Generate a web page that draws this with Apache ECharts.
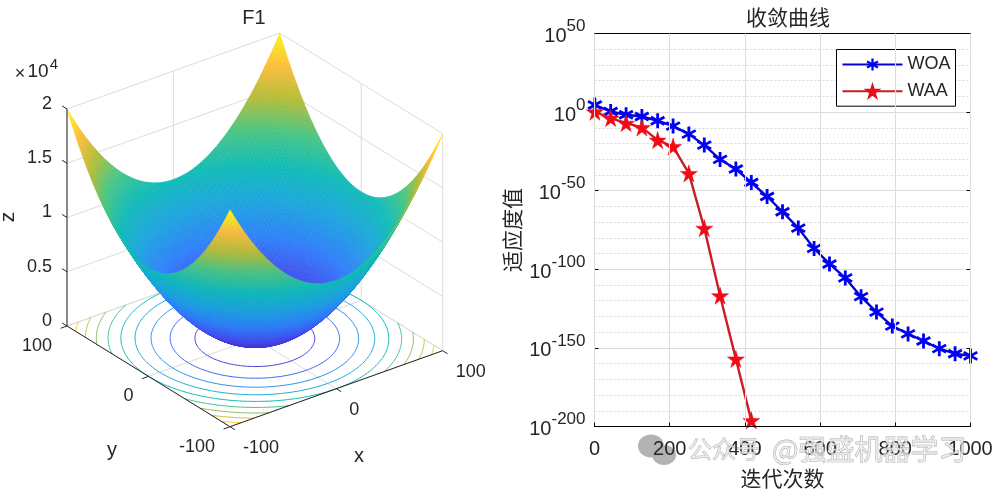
<!DOCTYPE html>
<html>
<head>
<meta charset="utf-8">
<style>html,body{margin:0;padding:0;background:#fff}#main{width:997px;height:490px}</style>
<script src="https://cdn.jsdelivr.net/npm/echarts@6/dist/echarts.min.js"></script>
</head>
<body>
<div id="main"></div>
<script>
// right panel: convergence curves, fitness is kept as log10 values
var iterations = [1, 43, 84, 126, 168, 209, 251, 292, 334, 376, 417, 459, 500, 542, 584, 625, 667, 709, 750, 792, 834, 875, 917, 959, 1000];
var woaLog10 = [4.5, 0.4, -1.7, -2.8, -5.5, -8.9, -14, -21, -30.1, -36.2, -44.8, -53.7, -63.4, -73.8, -86.7, -96.6, -105.5, -117.4, -127.2, -136.1, -141.1, -145.6, -150.5, -153.7, -155.1];
var waaLog10 = [0.2, -3.8, -7, -9.8, -17.8, -21.9, -39, -73.8, -116.8, -157, -196.1];

// left panel: bowl surface, z at a point is the sum of the two profiles
var gridValues = [-100, -98, -96, -94, -92, -90, -88, -86, -84, -82, -80, -78, -76, -74, -72, -70, -68, -66, -64, -62, -60, -58, -56, -54, -52, -50, -48, -46, -44, -42, -40, -38, -36, -34, -32, -30, -28, -26, -24, -22, -20, -18, -16, -14, -12, -10, -8, -6, -4, -2, 0, 2, 4, 6, 8, 10, 12, 14, 16, 18, 20, 22, 24, 26, 28, 30, 32, 34, 36, 38, 40, 42, 44, 46, 48, 50, 52, 54, 56, 58, 60, 62, 64, 66, 68, 70, 72, 74, 76, 78, 80, 82, 84, 86, 88, 90, 92, 94, 96, 98, 100];
var bowlProfile = [10000, 9604, 9216, 8836, 8464, 8100, 7744, 7396, 7056, 6724, 6400, 6084, 5776, 5476, 5184, 4900, 4624, 4356, 4096, 3844, 3600, 3364, 3136, 2916, 2704, 2500, 2304, 2116, 1936, 1764, 1600, 1444, 1296, 1156, 1024, 900, 784, 676, 576, 484, 400, 324, 256, 196, 144, 100, 64, 36, 16, 4, 0, 4, 16, 36, 64, 100, 144, 196, 256, 324, 400, 484, 576, 676, 784, 900, 1024, 1156, 1296, 1444, 1600, 1764, 1936, 2116, 2304, 2500, 2704, 2916, 3136, 3364, 3600, 3844, 4096, 4356, 4624, 4900, 5184, 5476, 5776, 6084, 6400, 6724, 7056, 7396, 7744, 8100, 8464, 8836, 9216, 9604, 10000];
var contourLevels = [2000, 4000, 6000, 8000, 10000, 12000, 14000, 16000, 18000];
var axisTicks3d = [-100, 0, 100];
var axisTickLabels = ['-100', '0', '100'];
var zTicks = [0, 5000, 10000, 15000, 20000];
var zTickLabels = ['0', '0.5', '1', '1.5', '2'];
var parula = ['#3E26A8', '#4746EC', '#2F7EFA', '#1CA4DE', '#10BBB8', '#48C584', '#B4BD38', '#FDBD3B', '#F9FB15'];

var sansFont = '"Liberation Sans", Arial, sans-serif';
var cjkFont = '"Noto Sans CJK SC", sans-serif';
var asteriskPath = 'path://M41 0L59 0L59 100L41 100ZM11.2 17.2L97.8 67.2L88.8 82.8L2.2 32.8ZM88.8 17.2L97.8 32.8L11.2 82.8L2.2 67.2Z';
var starPath = 'path://M50 0L61 35L98 35L68 57L79 91L50 70L21 91L32 57L2 35L39 35Z';

// orthographic view of the 3d box, fitted to the corners of the MATLAB axes
function project(x, y, z) {
    return [254.85 + x * 1.0635 - y * 0.815, 338.35 - x * 0.38 - y * 0.5035 - z * 0.01085];
}

function zAt(i, j) {
    return bowlProfile[i] + bowlProfile[j];
}

// far corner first so nearer cells paint over
var surfaceData = [];
for (var i = gridValues.length - 2; i >= 0; i--) {
    for (var j = gridValues.length - 2; j >= 0; j--) {
        surfaceData.push([i, j, (zAt(i, j) + zAt(i + 1, j) + zAt(i, j + 1) + zAt(i + 1, j + 1)) / 4]);
    }
}

function crossing(i1, j1, i2, j2, level) {
    var a = zAt(i1, j1), b = zAt(i2, j2);
    if ((a < level) === (b < level)) return null;
    var t = (level - a) / (b - a);
    return [gridValues[i1] + t * (gridValues[i2] - gridValues[i1]), gridValues[j1] + t * (gridValues[j2] - gridValues[j1])];
}

var contourData = [];
contourLevels.forEach(function (level) {
    for (var i = 0; i < gridValues.length - 1; i++) {
        for (var j = 0; j < gridValues.length - 1; j++) {
            var pts = [crossing(i, j, i + 1, j, level), crossing(i + 1, j, i + 1, j + 1, level), crossing(i, j + 1, i + 1, j + 1, level), crossing(i, j, i, j + 1, level)].filter(Boolean);
            for (var k = 0; k + 1 < pts.length; k += 2) {
                contourData.push([pts[k][0], pts[k][1], level, pts[k + 1][0], pts[k + 1][1]]);
            }
        }
    }
});

var wallLines = [];
zTicks.forEach(function (z) {
    wallLines.push([-100, 100, z, 100, 100, z], [100, 100, z, 100, -100, z]);
});
axisTicks3d.forEach(function (v) {
    wallLines.push([v, 100, 0, v, 100, 20000], [v, 100, 0, v, -100, 0]);
    wallLines.push([100, v, 0, 100, v, 20000], [100, v, 0, -100, v, 0]);
});

var axisLines = [[-100, 100, 0, -100, 100, 20000], [-100, 100, 0, -100, -100, 0], [-100, -100, 0, 100, -100, 0]];
zTicks.forEach(function (z) {
    axisLines.push([-100, 100, z, -100, 106, z]);
});
axisTicks3d.forEach(function (v) {
    axisLines.push([v, -100, 0, v, -106, 0], [-100, v, 0, -106, v, 0]);
});

function renderSegment(color, width) {
    return function (params, api) {
        var a = api.coord(project(api.value(0), api.value(1), api.value(2)));
        var b = api.coord(project(api.value(3), api.value(4), api.value(5)));
        return {
            type: 'line',
            shape: { x1: a[0], y1: a[1], x2: b[0], y2: b[1] },
            style: { stroke: color, lineWidth: width }
        };
    };
}

function renderContour(params, api) {
    var a = api.coord(project(api.value(0), api.value(1), 0));
    var b = api.coord(project(api.value(3), api.value(4), 0));
    return {
        type: 'line',
        shape: { x1: a[0], y1: a[1], x2: b[0], y2: b[1] },
        style: { stroke: api.visual('color'), lineWidth: 1 }
    };
}

function renderSurface(params, api) {
    var i = api.value(0), j = api.value(1), color = api.visual('color');
    var points = [[i, j], [i + 1, j], [i + 1, j + 1], [i, j + 1]].map(function (c) {
        return api.coord(project(gridValues[c[0]], gridValues[c[1]], zAt(c[0], c[1])));
    });
    return {
        type: 'polygon',
        shape: { points: points },
        style: { fill: color, stroke: color, lineWidth: 0.5 }
    };
}

function textEl(text, x, y, size, align) {
    return {
        type: 'text', silent: true, z: 20,
        style: { text: text, x: x, y: y, font: size + 'px ' + sansFont, fill: '#262626', align: align || 'center', verticalAlign: 'middle' }
    };
}

var labels = [
    textEl('F1', 254, 18, 20),
    { type: 'text', silent: true, z: 20, x: 8, y: 217, rotation: Math.PI / 2, style: { text: 'z', x: 0, y: 0, font: '21px ' + sansFont, fill: '#262626', align: 'center', verticalAlign: 'middle' } },
    textEl('y', 112, 450, 20),
    textEl('x', 359, 456, 20),
    textEl('×', 20, 74, 18),
    textEl('10', 38, 72, 19),
    textEl('4', 54, 65, 15)
];
zTicks.forEach(function (z, n) {
    var p = project(-100, 100, z);
    labels.push(textEl(zTickLabels[n], p[0] - 15, p[1] - 5, 18, 'right'));
});
axisTicks3d.forEach(function (v, n) {
    var py = project(-100, v, 0), px = project(v, -100, 0);
    labels.push(textEl(axisTickLabels[n], py[0] - 15, py[1] + 20, 18, 'right'));
    labels.push(textEl(axisTickLabels[n], px[0] + 13, px[1] + 21.5, 18, 'left'));
});

// watermark: the icon stays under the tick labels, the text goes over them
var watermarkStyle = { fill: 'rgba(235,235,235,0.72)', stroke: 'rgba(150,150,150,0.8)', lineWidth: 0.8, verticalAlign: 'middle' };
labels.push(
    { type: 'ellipse', silent: true, z: 1, shape: { cx: 651, cy: 446, rx: 13, ry: 11.5 }, style: { fill: 'rgba(175,175,175,0.95)' } },
    { type: 'ellipse', silent: true, z: 1, shape: { cx: 664, cy: 455, rx: 12, ry: 10 }, style: { fill: 'rgba(175,175,175,0.95)' } },
    { type: 'text', silent: true, z: 30, style: Object.assign({ text: '公众号', x: 688, y: 449, font: '24px ' + cjkFont }, watermarkStyle) },
    { type: 'text', silent: true, z: 30, style: Object.assign({ text: '@强盛机器学习', x: 772, y: 449, font: '28px ' + cjkFont }, watermarkStyle) }
);

var option = {
    animation: false,
    backgroundColor: '#fff',
    title: {
        text: '收敛曲线',
        left: 783,
        top: 2,
        textAlign: 'center',
        textStyle: { fontFamily: cjkFont, fontWeight: 'normal', fontSize: 21, color: '#262626' }
    },
    legend: {
        left: 836.5,
        top: 49.5,
        orient: 'vertical',
        padding: [6, 5, 6, 5],
        itemGap: 8.7,
        itemWidth: 60,
        itemHeight: 15,
        backgroundColor: '#fff',
        borderColor: '#000',
        borderWidth: 1,
        borderRadius: 0,
        textStyle: { fontFamily: sansFont, fontSize: 18, color: '#262626' },
        data: ['WOA', 'WAA']
    },
    grid: [
        { left: 594.5, top: 33.5, width: 376, height: 393, outerBoundsMode: 'none' },
        { left: 0, top: 0, right: 0, bottom: 0, outerBoundsMode: 'none' }
    ],
    visualMap: {
        show: false,
        type: 'continuous',
        min: 0,
        max: 20000,
        dimension: 2,
        seriesIndex: [3, 4],
        inRange: { color: parula }
    },
    xAxis: [
        {
            type: 'value', min: 0, max: 1000, interval: 200, gridIndex: 0, z: 10,
            name: '迭代次数', nameLocation: 'middle', nameGap: 41,
            nameTextStyle: { fontFamily: cjkFont, fontSize: 21, color: '#262626' },
            axisLine: { onZero: false, lineStyle: { color: '#000', width: 1 } },
            axisTick: { inside: true, length: 4, lineStyle: { color: '#000' } },
            axisLabel: {
                margin: 13, fontFamily: sansFont, fontSize: 20, color: '#262626',
                formatter: function (v) { return String(v); }
            },
            splitLine: { show: true, lineStyle: { color: '#dcdcdc', width: 1 } }
        },
        {
            type: 'value', min: 0, max: 1000, interval: 200, gridIndex: 0, position: 'top',
            axisLine: { onZero: false, lineStyle: { color: '#000', width: 1 } },
            axisTick: { inside: true, length: 4, lineStyle: { color: '#000' } },
            axisLabel: { show: false },
            splitLine: { show: false }
        },
        { type: 'value', min: 0, max: 997, gridIndex: 1, show: false }
    ],
    yAxis: [
        {
            // exponents on a linear scale, same picture as a log axis
            type: 'value', min: -200, max: 50, interval: 50, gridIndex: 0,
            name: '适应度值', nameLocation: 'middle', nameGap: 72,
            nameTextStyle: { fontFamily: cjkFont, fontSize: 21, color: '#262626' },
            axisLine: { show: true, onZero: false, lineStyle: { color: '#000', width: 1 } },
            axisTick: { show: true, inside: true, length: 4, lineStyle: { color: '#000' } },
            axisLabel: {
                margin: 9,
                formatter: function (v) { return '{b|10}{e|' + v + '}'; },
                rich: {
                    b: { fontFamily: sansFont, fontSize: 20, color: '#262626', padding: [6, 0, 0, 0] },
                    e: { fontFamily: sansFont, fontSize: 17, color: '#262626', padding: [0, 0, 14, 0] }
                }
            },
            splitLine: { show: true, lineStyle: { color: '#dcdcdc', width: 1 } },
            minorTick: { show: false, splitNumber: 5 },
            minorSplitLine: { show: true, lineStyle: { color: '#d8d8d8', type: [2, 2], width: 1 } }
        },
        {
            type: 'value', min: -200, max: 50, interval: 50, gridIndex: 0, position: 'right',
            axisLine: { show: true, onZero: false, lineStyle: { color: '#000', width: 1 } },
            axisTick: { show: true, inside: true, length: 4, lineStyle: { color: '#000' } },
            axisLabel: { show: false },
            splitLine: { show: false }
        },
        { type: 'value', min: 0, max: 490, inverse: true, gridIndex: 1, show: false }
    ],
    series: [
        {
            name: 'WOA', type: 'line', xAxisIndex: 0, yAxisIndex: 0, z: 5,
            data: iterations.map(function (x, n) { return [x, woaLog10[n]]; }),
            symbol: asteriskPath, symbolSize: 15, showAllSymbol: true, clip: false,
            lineStyle: { color: '#0404c8', width: 2.4 },
            itemStyle: { color: '#0000f5' }
        },
        {
            name: 'WAA', type: 'line', xAxisIndex: 0, yAxisIndex: 0, z: 6,
            data: waaLog10.map(function (e, n) { return [iterations[n], e]; }),
            symbol: starPath, symbolSize: 17, showAllSymbol: true, clip: false,
            lineStyle: { color: '#c81e28', width: 2.4 },
            itemStyle: { color: '#f50a14', borderColor: '#e0101c', borderWidth: 0.5 }
        },
        {
            type: 'custom', xAxisIndex: 2, yAxisIndex: 2, z: 1, silent: true,
            renderItem: renderSegment('#dcdcdc', 1), data: wallLines, progressive: 0
        },
        {
            type: 'custom', xAxisIndex: 2, yAxisIndex: 2, z: 2, silent: true,
            renderItem: renderContour, data: contourData, progressive: 0
        },
        {
            type: 'custom', xAxisIndex: 2, yAxisIndex: 2, z: 3, silent: true,
            renderItem: renderSurface, data: surfaceData, progressive: 0
        },
        {
            type: 'custom', xAxisIndex: 2, yAxisIndex: 2, z: 4, silent: true,
            renderItem: renderSegment('#262626', 1), data: axisLines, progressive: 0
        }
    ],
    graphic: { elements: labels }
};

var chart = echarts.init(document.getElementById('main'), null, { renderer: 'canvas' });
chart.setOption(option);
</script>
</body>
</html>
